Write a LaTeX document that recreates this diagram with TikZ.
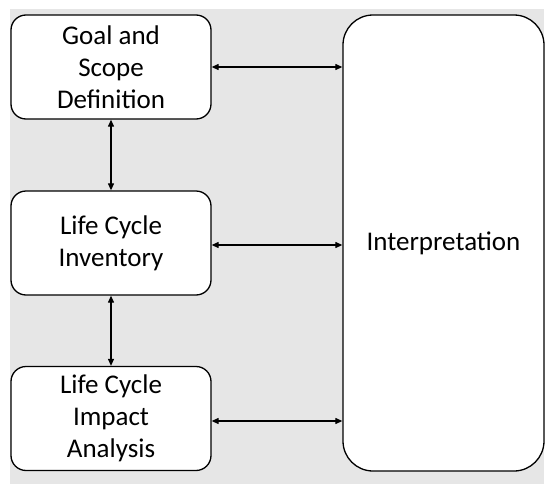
\documentclass[tikz,border=0pt]{standalone}
\usepackage{fontspec}
\setmainfont{Carlito}
\usetikzlibrary{arrows.meta}
\begin{document}
\begin{tikzpicture}[x=1pt,y=-1pt,
  stage/.style={draw=black, line width=1.3pt, fill=white, rounded corners=15pt,
    minimum width=200pt, minimum height=104pt, inner sep=0pt, align=center,
    font=\fontsize{27}{32}\selectfont},
  bigstage/.style={draw=black, line width=1.3pt, fill=white, rounded corners=30pt,
    minimum width=201pt, minimum height=456pt, inner sep=0pt, align=center,
    font=\fontsize{27}{32}\selectfont},
  link/.style={line width=1.2pt, {Triangle[length=7pt,width=6pt]}-{Triangle[length=7pt,width=6pt]}}]
\useasboundingbox (0,0) rectangle (550,493);
\fill[fill={rgb,255:red,230;green,230;blue,230}] (10,9) rectangle (544,484);
\node[stage] (goal) at (111,67) {Goal and\\Scope\\Definition};
\node[stage] (lci) at (111,243) {Life Cycle\\Inventory};
\node[stage] (lcia) at (111,418.5) {Life Cycle\\Impact\\Analysis};
\node[bigstage] (interp) at (443.5,243) {Interpretation};
\draw[link] (goal.south) -- (lci.north);
\draw[link] (lci.south) -- (lcia.north);
\draw[link] (goal.east |- 0,67) -- (interp.west |- 0,67);
\draw[link] (lci.east |- 0,245) -- (interp.west |- 0,245);
\draw[link] (lcia.east |- 0,421) -- (interp.west |- 0,421);
\end{tikzpicture}
\end{document}
